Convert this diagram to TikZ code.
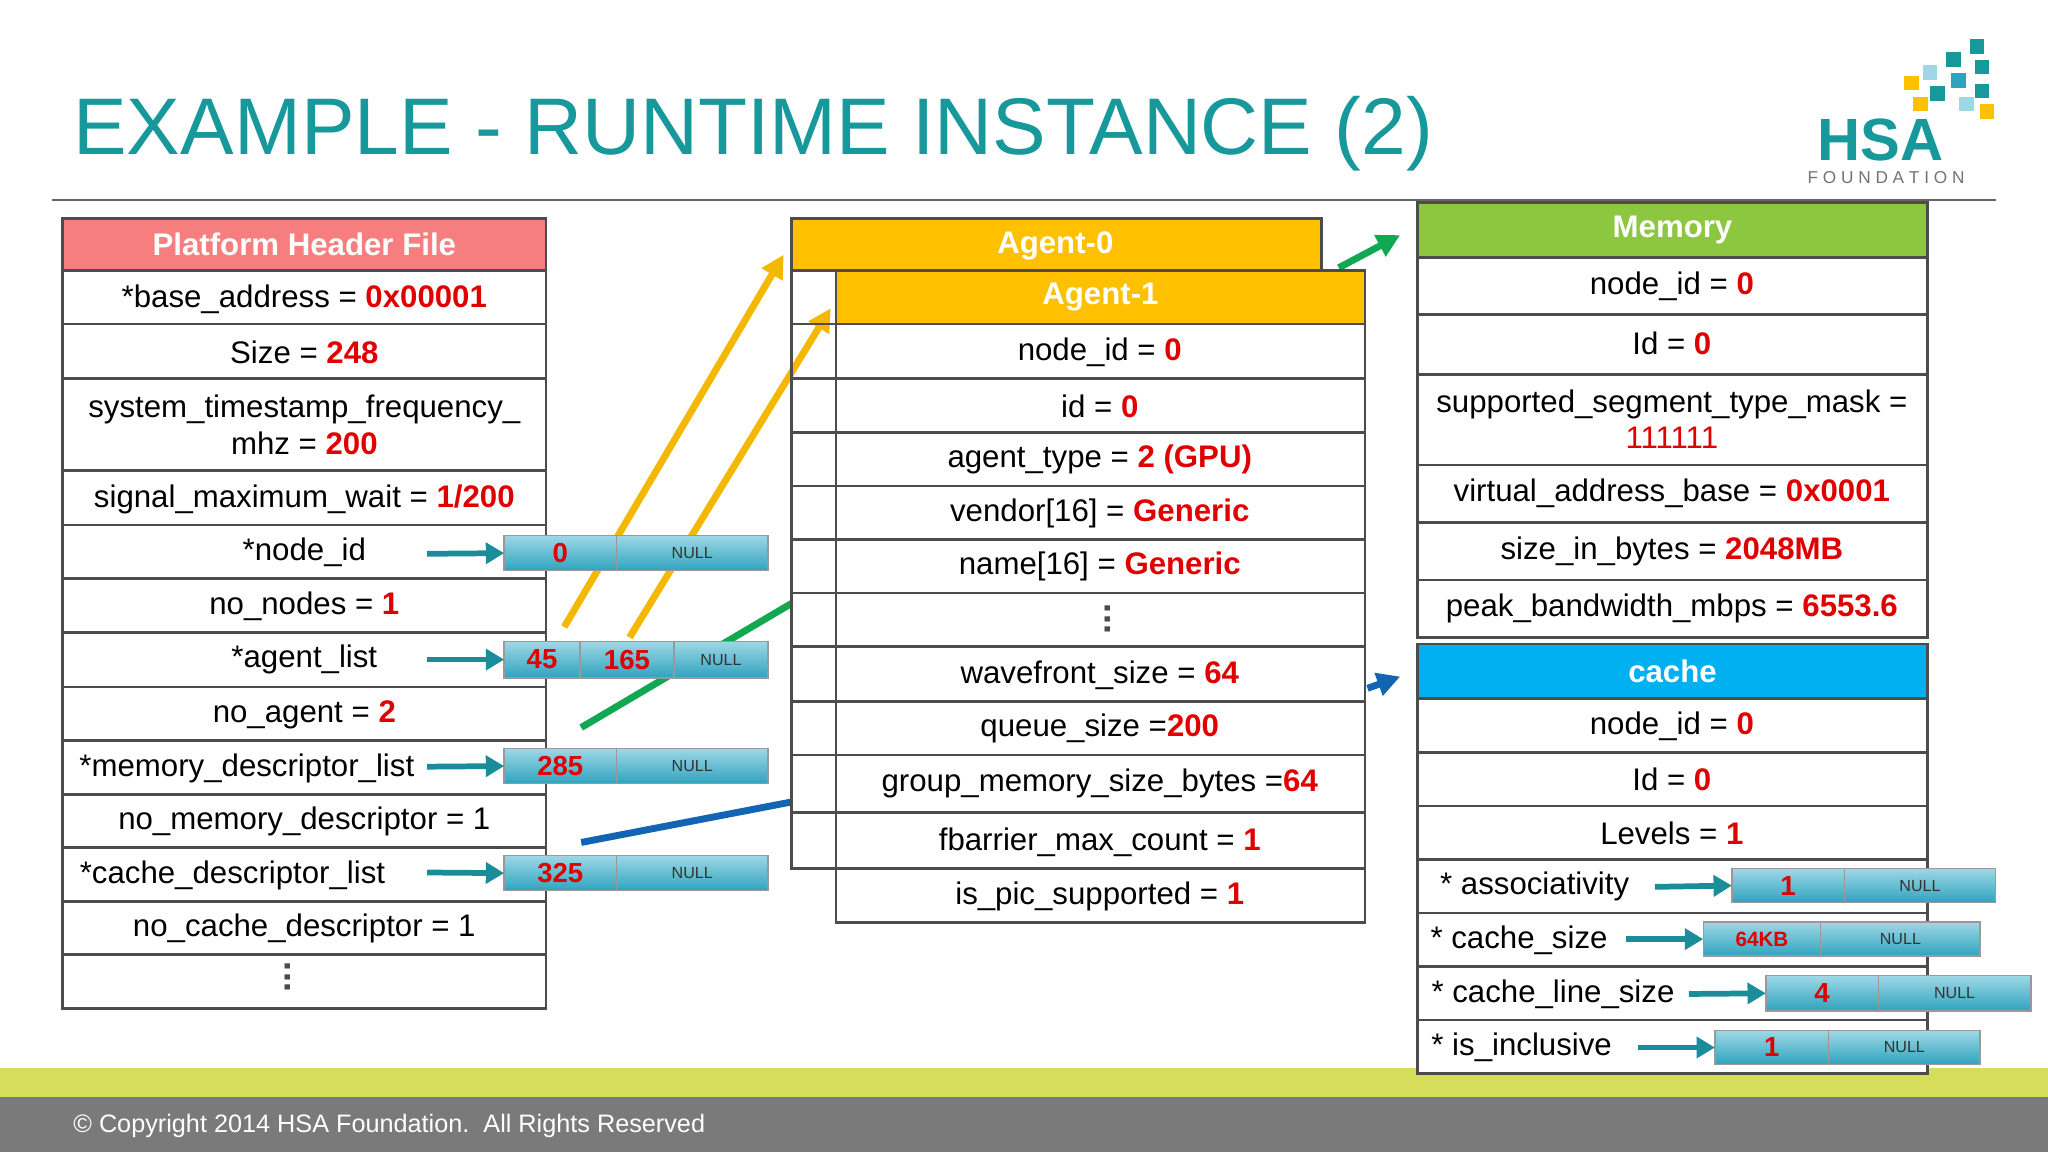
\documentclass[tikz,border=0pt]{standalone}
\usepackage{fontspec}
\setmainfont{Liberation Sans}
\usetikzlibrary{arrows.meta}
\definecolor{teal1}{HTML}{17989A}
\definecolor{rd}{HTML}{E00000}
\definecolor{pinkh}{HTML}{F77E7E}
\definecolor{yel}{HTML}{FFC000}
\definecolor{grn}{HTML}{8DC63F}
\definecolor{cyn}{HTML}{00B0F0}
\definecolor{lbt}{HTML}{9ED8E6}
\definecolor{lbb}{HTML}{2FA3BE}
\definecolor{arr}{HTML}{1A8C9A}
\definecolor{band}{HTML}{D5DD5A}
\definecolor{gline}{HTML}{10A850}
\definecolor{bline}{HTML}{1464B4}
\definecolor{yline}{HTML}{F5B800}
\newcommand\cell[6][]{\node[cell,#1,minimum width={(#4-#2)*0.02cm},minimum height={(#5-#3)*0.02cm}] (#6) at ({(#2+#4)/2},{(#3+#5)/2}) {};}
\newcommand\ctext[4]{\node[align=center,font=\fontsize{13.6}{16}\selectfont] at ({#1},{#2}) (#3) {#4};}
\newcommand\R[1]{\textcolor{rd}{\textbf{#1}}}
\tikzset{
 cell/.style={draw=black!70,line width=1.2pt,inner sep=0,outer sep=0,fill=white},
 hdr/.style={font=\bfseries\fontsize{13.6}{15}\selectfont,text=white},
 lbox/.style={draw=black!40,line width=0.6pt,top color=lbt,bottom color=lbb,inner sep=0,outer sep=0},
 tarr/.style={draw=arr,line width=2.5pt,-{Triangle[length=8pt,width=9pt]}},
 nul/.style={font=\fontsize{7}{8}\selectfont,text=black!80},
 lv/.style={font=\bfseries\fontsize{12}{14}\selectfont,text=rd},
 pl/.style={line width=3pt,-{Triangle[length=10pt,width=10pt]}},
}
\begin{document}
\begin{tikzpicture}[x=0.02cm,y=-0.02cm]
\useasboundingbox[fill=white] (0,0) rectangle (1568,882);
% title
\node[anchor=west,text=teal1,font=\fontsize{35}{40}\selectfont] (title) at (50,102) {EXAMPLE - RUNTIME INSTANCE (2)};
\draw[black!60,line width=1pt] (40,153) -- (1528,153);
% logo
\foreach \x/\y/\c in {1508/30/teal1,1490/40/teal1,1512/46/teal1,1472/50/lbt,1494/56/lbb,1458/58/yel,1478/66/teal1,1512/64/teal1,1465/74/yel,1500/74/lbt,1516/80/yel}
 \fill[\c] (\x,\y) rectangle ++(11,11);
\node[text=teal1,inner sep=0pt,font=\bfseries\fontsize{26}{28}\selectfont] (hsa) at (1440,107) {HSA};
\node[text=black!55,inner sep=0pt,font=\fontsize{7.5}{8}\selectfont] (fnd) at (1444,136) {F O U N D A T I O N};
% bottom bands
\fill[band] (0,818) rectangle (1568,840);
\fill[black!52] (0,840) rectangle (1568,882);
\node[anchor=west,text=white,font=\fontsize{11}{13}\selectfont] (copy) at (50,862) {© Copyright 2014 HSA Foundation.\ \ All Rights Reserved};

% ---------- pointer lines (behind)
\coordinate (y1) at (432,480);\coordinate (y1e) at (600,195);
\coordinate (y2) at (482,488);\coordinate (y2e) at (636,236);
\draw[pl,draw=yline] (y1) -- (y1e);
\draw[pl,draw=yline] (y2) -- (y2e);
\coordinate (gs) at (445,557);\coordinate (ge) at (606,462);
\draw[line width=3pt,gline] (gs) -- (ge);
\coordinate (g2s) at (1025,205);\coordinate (g2e) at (1072,180);
\draw[pl,draw=gline] (g2s) -- (g2e);
\coordinate (bs) at (445,645);\coordinate (be) at (606,614);
\draw[line width=3pt,bline] (bs) -- (be);
\coordinate (b2s) at (1047,527);\coordinate (b2e) at (1072,518);
\draw[pl,draw=bline] (b2s) -- (b2e);

% ---------- Left table
\cell[fill=pinkh]{48}{167}{418}{207}{ph}
\node[hdr] at (ph) {Platform Header File};
\foreach \a/\b/\n in {207/248/l1,248/290/l2,290/360/l3,360/402/l4,402/443/l5,443/484/l6,484/526/l7,526/567/l8,567/608/l9,608/649/l10,649/690/l11,690/731/l12,731/772/l13}
 {\cell{48}{\a}{418}{\b}{\n}}
\ctext{233}{229}{t1}{*base\_address = \R{0x00001}}
\ctext{233}{270}{t2}{Size = \R{248}}
\ctext{233}{325}{t3}{system\_timestamp\_frequency\_\\mhz = \R{200}}
\ctext{233}{382}{t4}{signal\_maximum\_wait = \R{1/200}}
\ctext{233}{423}{t5}{*node\_id}
\ctext{233}{464}{t6}{no\_nodes = \R{1}}
\ctext{233}{505}{t7}{*agent\_list}
\ctext{233}{547}{t8}{no\_agent = \R{2}}
\ctext{189}{588}{t9}{*memory\_descriptor\_list}
\ctext{233}{629}{t10}{no\_memory\_descriptor = 1}
\ctext{178}{670}{t11}{*cache\_descriptor\_list}
\ctext{233}{711}{t12}{no\_cache\_descriptor = 1}
\node[font=\bfseries\fontsize{16}{16}\selectfont,text=black!70] at (220,748) {\rotatebox{90}{...}};

% linked lists left
\newcommand\lbox[5]{\node[lbox,minimum width={(#3-#1)*0.02cm},minimum height={(#4-#2)*0.02cm}] (#5) at ({(#1+#3)/2},{(#2+#4)/2}) {};}
\lbox{386}{410}{472}{437}{n0}\lbox{472}{410}{588}{437}{n1}
\node[lv] at (n0) {0};\node[nul] at (n1) {NULL};
\lbox{386}{491}{444}{519}{a0}\lbox{444}{491}{516}{519}{a1}\lbox{516}{491}{588}{519}{a2}
\node[lv] at (a0) {45};\node[lv] at (a1) {165};\node[nul] at (a2) {NULL};
\lbox{386}{573}{472}{600}{m0}\lbox{472}{573}{588}{600}{m1}
\node[lv] at (m0) {285};\node[nul] at (m1) {NULL};
\lbox{386}{655}{472}{682}{c0}\lbox{472}{655}{588}{682}{c1}
\node[lv] at (c0) {325};\node[nul] at (c1) {NULL};
\coordinate (s5) at (327,424);\coordinate (s7) at (327,505);\coordinate (s9) at (327,587);\coordinate (s11) at (327,668);
\draw[tarr] (s5) -- (n0.west);
\draw[tarr] (s7) -- (a0.west);
\draw[tarr] (s9) -- (m0.west);
\draw[tarr] (s11) -- (c0.west);

% ---------- Agents
\cell[fill=yel]{606}{167}{1012}{207}{ag0}
\node[hdr] at (808,188) {Agent-0};
\foreach \a/\b in {207/248,248/290,290/331,331/372,372/413,413/454,454/495,495/537,537/578,578/622,622/665}
 {\draw[black!70,line width=1.2pt] (606,\a) rectangle (640,\b);}
\cell[fill=yel]{640}{207}{1045}{248}{ag1}
\node[hdr] at (ag1) {Agent-1};
\foreach \a/\b/\n in {248/290/g1,290/331/g2,331/372/g3,372/413/g4,413/454/g5,454/495/g6,495/537/g7,537/578/g8,578/622/g9,622/665/g10,665/706/g11}
 {\cell{640}{\a}{1045}{\b}{\n}}
\ctext{842}{270}{u1}{node\_id = \R{0}}
\ctext{842}{311}{u2}{id = \R{0}}
\ctext{842}{352}{u3}{agent\_type = \R{2 (GPU)}}
\ctext{842}{393}{u4}{vendor[16] = \R{Generic}}
\ctext{842}{434}{u5}{name[16] = \R{Generic}}
\node[font=\bfseries\fontsize{16}{16}\selectfont,text=black!70] at (848,474) {\rotatebox{90}{...}};
\ctext{842}{517}{u7}{wavefront\_size = \R{64}}
\ctext{842}{558}{u8}{queue\_size =\R{200}}
\ctext{842}{600}{u9}{group\_memory\_size\_bytes =\R{64}}
\ctext{842}{645}{u10}{fbarrier\_max\_count = \R{1}}
\ctext{842}{686}{u11}{is\_pic\_supported = \R{1}}

% ---------- Memory
\cell[fill=grn]{1085}{155}{1476}{197}{mh}
\node[hdr] at (mh) {Memory};
\foreach \a/\b/\n in {197/241/k1,241/287/k2,287/356/k3,356/400/k4,400/444/k5,444/488/k6}
 {\cell{1085}{\a}{1476}{\b}{\n}}
\ctext{1280}{219}{v1}{node\_id = \R{0}}
\ctext{1280}{263}{v2}{Id = \R{0}}
\ctext{1280}{321}{v3}{supported\_segment\_type\_mask =\\\textcolor{rd}{111111}}
\ctext{1280}{378}{v4}{virtual\_address\_base = \R{0x0001}}
\ctext{1280}{422}{v5}{size\_in\_bytes = \R{2048MB}}
\ctext{1280}{466}{v6}{peak\_bandwidth\_mbps = \R{6553.6}}

% ---------- cache
\cell[fill=cyn]{1085}{493}{1476}{535}{ch}
\node[hdr] at (ch) {cache};
\foreach \a/\b/\n in {535/576/h1,576/617/h2,617/658/h3,658/699/h4,699/740/h5,740/781/h6,781/822/h7}
 {\cell{1085}{\a}{1476}{\b}{\n}}
\ctext{1280}{556}{w1}{node\_id = \R{0}}
\ctext{1280}{597}{w2}{Id = \R{0}}
\ctext{1280}{638}{w3}{Levels = \R{1}}
\ctext{1175}{679}{w4}{* associativity}
\ctext{1163}{720}{w5}{* cache\_size}
\ctext{1189}{761}{w6}{* cache\_line\_size}
\ctext{1165}{802}{w7}{* is\_inclusive}
\lbox{1326}{665}{1412}{691}{p0}\lbox{1412}{665}{1528}{691}{p1}
\node[lv] at (p0) {1};\node[nul] at (p1) {NULL};
\lbox{1304}{706}{1394}{732}{q0}\lbox{1394}{706}{1516}{732}{q1}
\node[lv,font=\bfseries\fontsize{9}{10}\selectfont] at (q0) {64KB};\node[nul] at (q1) {NULL};
\lbox{1352}{747}{1438}{774}{r0}\lbox{1438}{747}{1555}{774}{r1}
\node[lv] at (r0) {4};\node[nul] at (r1) {NULL};
\lbox{1313}{789}{1400}{815}{z0}\lbox{1400}{789}{1516}{815}{z1}
\node[lv] at (z0) {1};\node[nul] at (z1) {NULL};
\coordinate (e4) at (1267,679);\coordinate (e5) at (1245,719);\coordinate (e6) at (1293,761);\coordinate (e7) at (1254,802);
\draw[tarr] (e4) -- (p0.west);
\draw[tarr] (e5) -- (q0.west);
\draw[tarr] (e6) -- (r0.west);
\draw[tarr] (e7) -- (z0.west);
\end{tikzpicture}
\end{document}
